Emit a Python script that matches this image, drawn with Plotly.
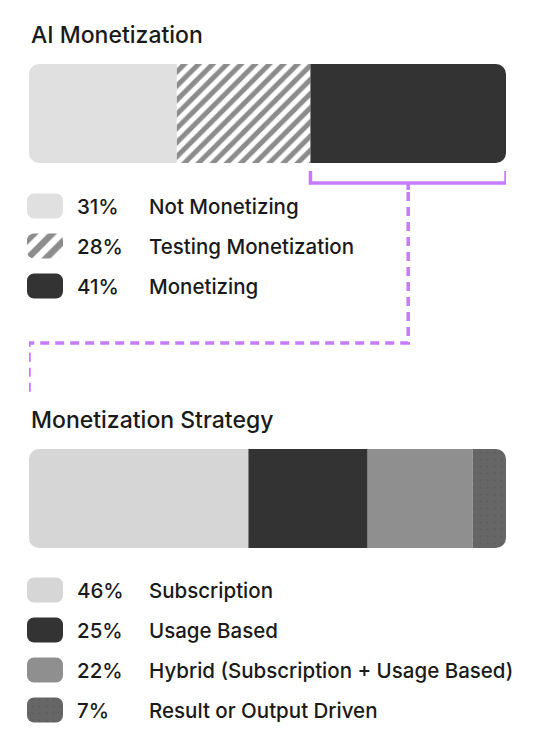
import plotly.graph_objects as go

W, H = 544, 755
PAD = 8  # default body margin of the html page
FW, FH = W - 2 * PAD, H - 2 * PAD

# top bar: AI monetization split
ai_labels = ["Not Monetizing", "Testing Monetization", "Monetizing"]
ai_values = [31, 28, 41]
ai_colors = ["#dfe0df", "#8f8f8f", "#333333"]

# bottom bar: monetization strategy split
strat_labels = ["Subscription", "Usage Based", "Hybrid (Subscription + Usage Based)",
                "Result or Output Driven"]
strat_values = [46, 25, 22, 7]
strat_colors = ["#d6d6d6", "#333333", "#8f8f8f", "#666666"]

PURPLE = "#c67bfb"
INK = "#1a1a1a"
FONT = "Inter"
ROW = 40  # legend row pitch in px


def py(p):
    # page pixel row -> paper y
    return 1 - (p - PAD) / FH


def px(p):
    return (p - PAD) / FW


def pattern_for(name, swatch=False):
    if name == "Testing Monetization":
        return dict(shape="/", fgcolor="#8c8c8c", bgcolor="#ffffff", fgopacity=1,
                    size=13 if swatch else 10, solidity=0.5)
    if name == "Result or Output Driven":
        return dict(shape=".", fgcolor="#5c5c5c", bgcolor="#666666", fgopacity=1,
                    size=7, solidity=0.06)
    return None


fig = go.Figure()


def stacked_bar(labels, values, colors, xa, ya):
    # first segment goes to the negative side so both ends of the stack get rounded
    for i, (lab, val, col) in enumerate(zip(labels, values, colors)):
        fig.add_trace(go.Bar(
            x=[-val if i == 0 else val], y=[0], orientation="h", width=1,
            marker=dict(color=col, line=dict(width=0), pattern=pattern_for(lab)),
            customdata=[val], name=lab,
            hovertemplate=lab + ": %{customdata}%<extra></extra>",
            xaxis=xa, yaxis=ya))


def legend_rows(labels, values, colors, xa, ya):
    # each swatch is two halves around 0 so all four corners are rounded
    for i, (lab, val, col) in enumerate(zip(labels, values, colors)):
        for half in (-18, 18):
            fig.add_trace(go.Bar(
                x=[half], y=[i], orientation="h", width=0.625,
                marker=dict(color=col, line=dict(width=0), cornerradius=7,
                            pattern=pattern_for(lab, swatch=True)),
                hoverinfo="skip", xaxis=xa, yaxis=ya))
    rows = [i + 3 / ROW for i in range(len(labels))]
    txt = dict(family=FONT, size=20.5, color=INK, weight=500)
    fig.add_trace(go.Scatter(
        x=[32] * len(rows), y=rows, mode="text", text=[f"{v}%" for v in values],
        textposition="middle right", textfont=txt, hoverinfo="skip", xaxis=xa, yaxis=ya))
    fig.add_trace(go.Scatter(
        x=[104] * len(rows), y=rows, mode="text", text=labels,
        textposition="middle right", textfont=txt, hoverinfo="skip", xaxis=xa, yaxis=ya))


stacked_bar(ai_labels, ai_values, ai_colors, "x", "y")
stacked_bar(strat_labels, strat_values, strat_colors, "x2", "y2")
legend_rows(ai_labels, ai_values, ai_colors, "x3", "y3")
legend_rows(strat_labels, strat_values, strat_colors, "x4", "y4")

hidden = dict(visible=False, showgrid=False, zeroline=False, fixedrange=True)
bar_dom = [px(29), px(506)]
leg_x = [-(45 - PAD), FW - (45 - PAD)]

fig.update_layout(
    width=FW, height=FH,
    margin=dict(l=0, r=0, t=0, b=0),
    paper_bgcolor="white", plot_bgcolor="white",
    barmode="relative", barcornerradius=10,
    showlegend=False,
    font=dict(family=FONT, color=INK),
    xaxis=dict(hidden, domain=bar_dom, range=[-ai_values[0], sum(ai_values[1:])], anchor="y"),
    yaxis=dict(hidden, domain=[py(163), py(64)], range=[-0.5, 0.5], anchor="x"),
    xaxis2=dict(hidden, domain=bar_dom, range=[-strat_values[0], sum(strat_values[1:])], anchor="y2"),
    yaxis2=dict(hidden, domain=[py(548), py(449)], range=[-0.5, 0.5], anchor="x2"),
    xaxis3=dict(hidden, domain=[0, 1], range=leg_x, anchor="y3"),
    yaxis3=dict(hidden, domain=[py(186 + 3 * ROW), py(186)], range=[2.5, -0.5], anchor="x3"),
    xaxis4=dict(hidden, domain=[0, 1], range=leg_x, anchor="y4"),
    yaxis4=dict(hidden, domain=[py(570 + 4 * ROW), py(570)], range=[3.5, -0.5], anchor="x4"),
)

# titles
title_font = dict(family=FONT, size=23, color=INK, weight=500)
fig.add_annotation(text="AI Monetization", x=px(29), y=py(35), xref="paper", yref="paper",
                   xanchor="left", yanchor="middle", showarrow=False, font=title_font)
fig.add_annotation(text="Monetization Strategy", x=px(29), y=py(420), xref="paper", yref="paper",
                   xanchor="left", yanchor="middle", showarrow=False, font=title_font)

# bracket under the "Monetizing" segment, then dashed connector to the strategy bar
b0 = ai_values[1]
b1 = ai_values[1] + ai_values[2]
mid = (b0 + b1) / 2
left = -ai_values[0]
fig.add_shape(type="path", xref="x", yref="paper",
              path=f"M {b0},{py(171)} L {b0},{py(183)} L {b1},{py(183)} L {b1},{py(171)}",
              line=dict(color=PURPLE, width=3.5))
fig.add_shape(type="line", xref="x", yref="paper", x0=mid, x1=mid, y0=py(183), y1=py(190),
              line=dict(color=PURPLE, width=3.5))
fig.add_shape(type="path", xref="x", yref="paper",
              path=f"M {mid},{py(192)} L {mid},{py(343)} L {left},{py(343)} L {left},{py(392)}",
              line=dict(color=PURPLE, width=3.5, dash="9px,6px"))

fig.write_html("out.html")
